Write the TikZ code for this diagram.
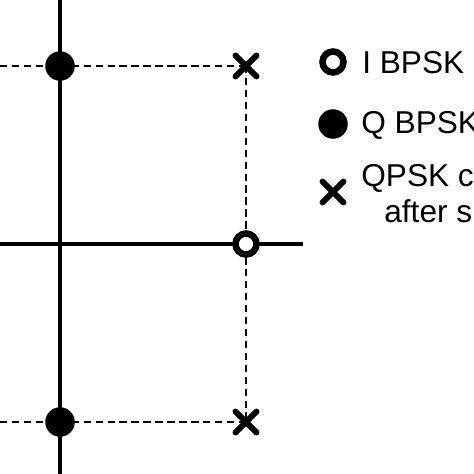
\documentclass[tikz,border=0pt]{standalone}
\usepackage{fontspec}
\setmainfont{Liberation Sans}
\usetikzlibrary{shapes.misc}
\begin{document}
\begin{tikzpicture}[x=0.02cm,y=-0.02cm,
  axis/.style={line width=2pt},
  guide/.style={line width=1.5pt,dash pattern=on 4.2pt off 2.6pt},
  qdot/.style={circle,fill=black,inner sep=0,minimum size=0.59cm},
  idot/.style={circle,draw=black,fill=white,line width=3.7pt,inner sep=0,minimum size=0.42cm},
  xmark/.style={cross out,draw=black,line width=3.4pt,line cap=round,inner sep=0,minimum size=0.3cm},
  lbl/.style={anchor=base west,inner sep=0,font=\fontsize{18pt}{22pt}\selectfont}]
\clip (0,0) rectangle (474,474);
\fill[white] (0,0) rectangle (474,474);
% axes
\coordinate (vt) at (60,0);
\coordinate (vb) at (60,474);
\coordinate (hl) at (0,244);
\coordinate (hr) at (303,244);
\draw[axis] (vt) -- (vb);
\draw[axis] (hl) -- (hr);
% guide line ends
\coordinate (gl1) at (0,66);
\coordinate (gl2) at (0,422);
\coordinate (x1c) at (246,66);
\coordinate (x2c) at (246,422);
\draw[guide] (gl1) -- (x1c);
\draw[guide] (gl2) -- (x2c);
\draw[guide] (x1c) -- (x2c);
% constellation points
\node[qdot] (q1) at (60,66) {};
\node[qdot] (q2) at (60,422) {};
\node[xmark] (x1) at (x1c) {};
\node[xmark] (x2) at (x2c) {};
\node[idot] (i1) at (246,244) {};
% legend
\node[idot] (li) at (333,62) {};
\node[qdot] (lq) at (333,124) {};
\node[xmark] (lx) at (333,192) {};
\node[lbl] (ti) at (362,73) {I BPSK};
\node[lbl] (tq) at (361,133) {Q BPSK};
\node[lbl] (tx1) at (361,186) {QPSK constellation};
\node[lbl] (tx2) at (384,222) {after superposition};
\end{tikzpicture}
\end{document}
